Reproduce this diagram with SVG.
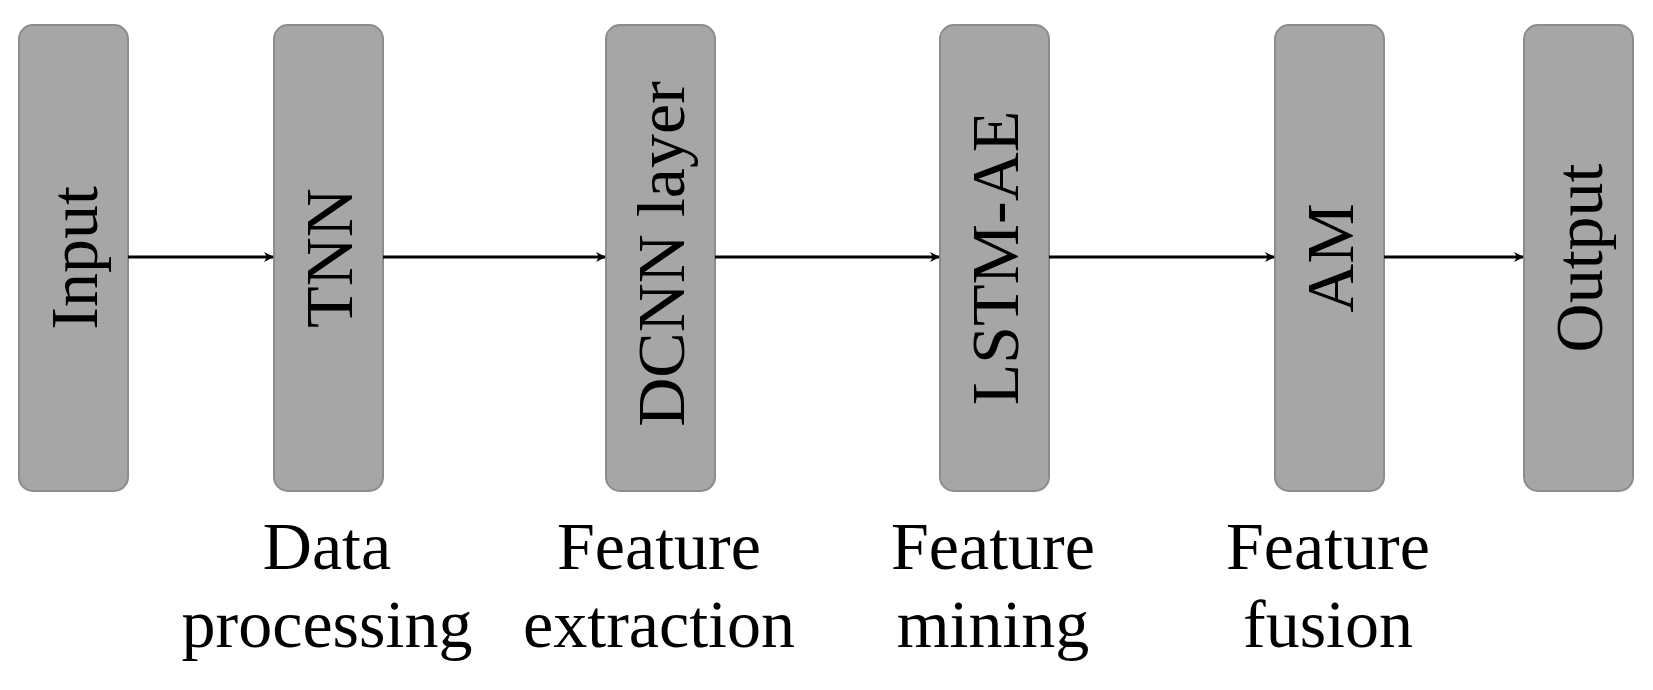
<svg xmlns="http://www.w3.org/2000/svg" width="1653" height="690" viewBox="0 0 1653 690">
<style>
.box{fill:#a6a6a6;stroke:#8c8c8c;stroke-width:2}
text{font-family:"Liberation Serif","Times New Roman",serif;font-size:68px;fill:#000;text-anchor:middle}
.c{stroke:#000;stroke-width:3;fill:none;marker-end:url(#a)}
</style>
<defs><marker id="a" markerWidth="10" markerHeight="10" refX="9" refY="5" orient="auto" markerUnits="userSpaceOnUse"><path d="M0,0 L10,5 L0,10 L3,5 Z" fill="#000"/></marker></defs>
<rect width="1653" height="690" fill="#fff"/>
<g id="input"><rect class="box" x="19" y="25" width="109" height="466" rx="14"/><text transform="translate(97,258) rotate(-90)">Input</text></g>
<g id="tnn"><rect class="box" x="274" y="25" width="109" height="466" rx="14"/><text transform="translate(352,258) rotate(-90)">TNN</text></g>
<g id="dcnn"><rect class="box" x="606" y="25" width="109" height="466" rx="14"/><text transform="translate(684,254) rotate(-90)">DCNN layer</text></g>
<g id="lstm"><rect class="box" x="940" y="25" width="109" height="466" rx="14"/><text transform="translate(1018,258) rotate(-90)">LSTM-AE</text></g>
<g id="am"><rect class="box" x="1275" y="25" width="109" height="466" rx="14"/><text transform="translate(1353,258) rotate(-90)">AM</text></g>
<g id="output"><rect class="box" x="1524" y="25" width="109" height="466" rx="14"/><text transform="translate(1602,258) rotate(-90)">Output</text></g>
<g id="connectors">
<line class="c" x1="128" y1="257" x2="273" y2="257"/>
<line class="c" x1="383" y1="257" x2="605" y2="257"/>
<line class="c" x1="715" y1="257" x2="939" y2="257"/>
<line class="c" x1="1049" y1="257" x2="1274" y2="257"/>
<line class="c" x1="1384" y1="257" x2="1523" y2="257"/>
</g>
<g id="labels">
<text x="327" y="569">Data</text><text x="327" y="647">processing</text>
<text x="659" y="569">Feature</text><text x="659" y="647">extraction</text>
<text x="993" y="569">Feature</text><text x="993" y="647">mining</text>
<text x="1328" y="569">Feature</text><text x="1328" y="647">fusion</text>
</g>
</svg>
